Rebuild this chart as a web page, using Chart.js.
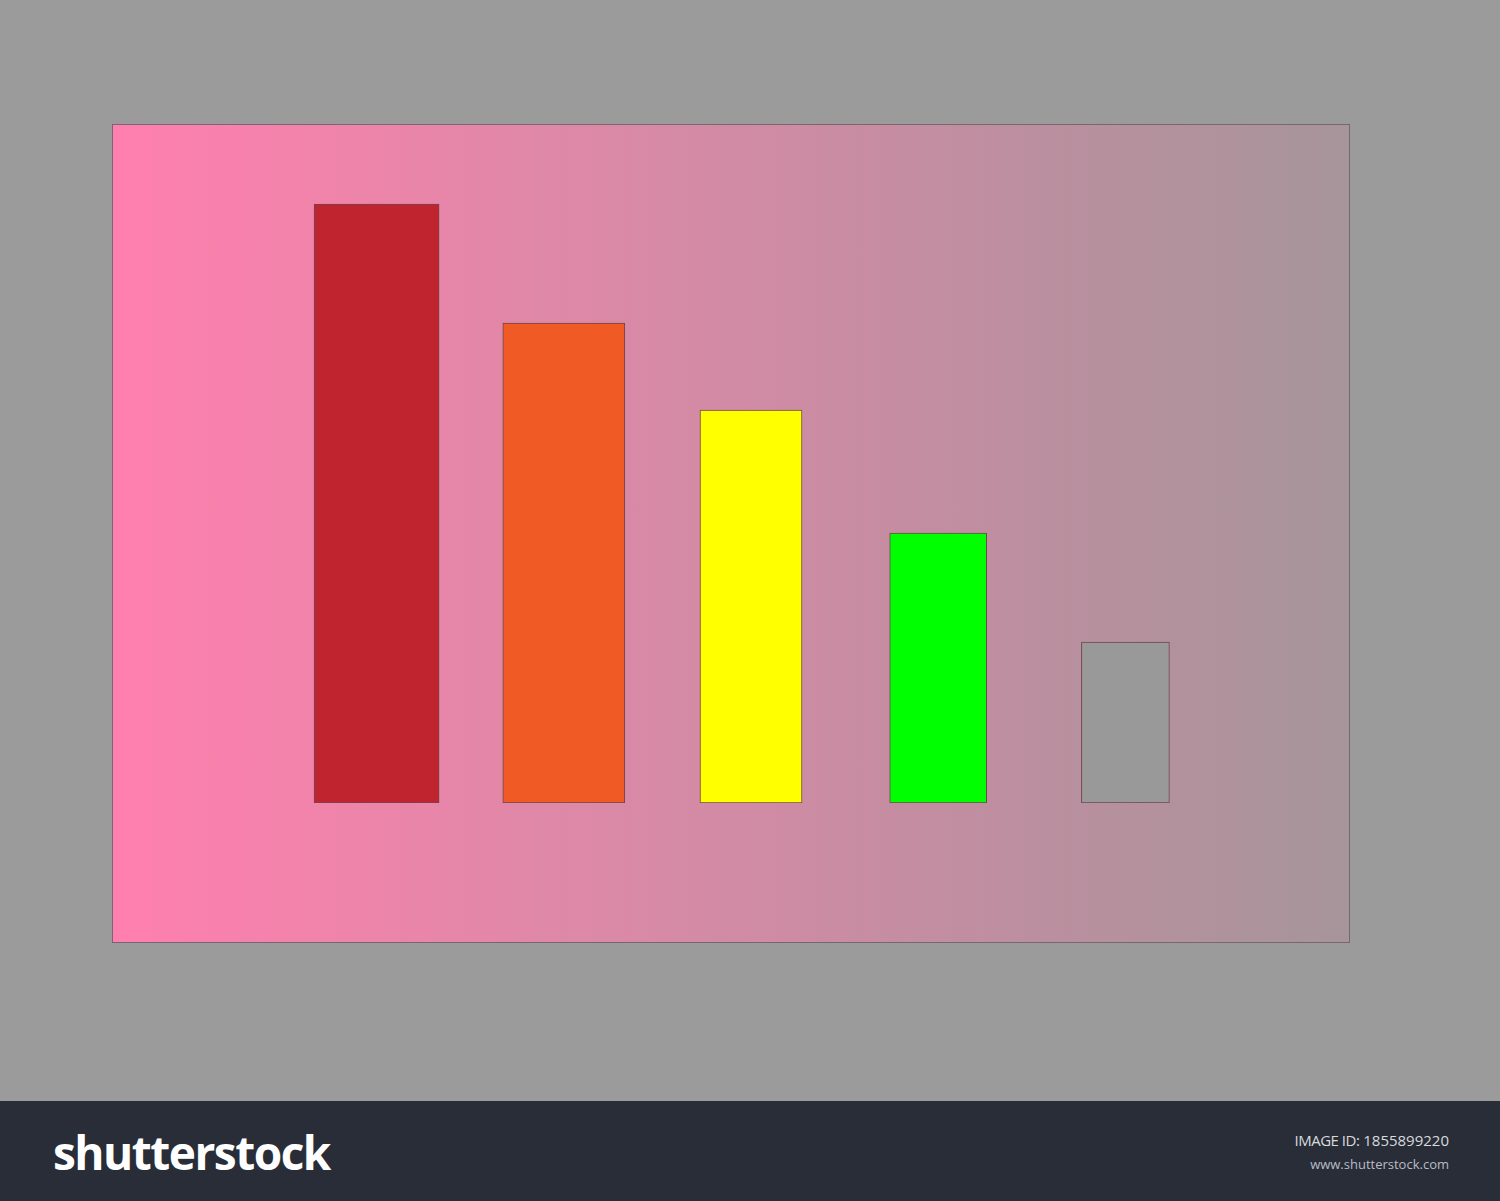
<!DOCTYPE html>
<html>
<head>
<meta charset="utf-8">
<script src="https://cdn.jsdelivr.net/npm/chart.js@4/dist/chart.umd.min.js"></script>
<style>
  body { margin: 0; width: 1500px; height: 1201px; background: #9b9b9b; overflow: hidden; font-family: "Open Sans", sans-serif; }
  .panel { position: absolute; left: 112px; top: 124px; width: 1236px; height: 817px;
    border: 1px solid #7a6670;
    background: linear-gradient(to right, #ff7fae 0%, #f283ab 15%, #d68aa5 45%, #bb8f9f 75%, #a6959a 100%); }
  .wrap { position: absolute; left: 0; top: 0; width: 1500px; height: 1100px; }
  .footer { position: absolute; left: 0; top: 1101px; width: 1500px; height: 100px; background: #282d38; color: #fff; }
  .logo { position: absolute; left: 53px; top: 1121px; font-size: 46px; font-weight: 700; letter-spacing: -1.5px; }
  .id { position: absolute; right: 51px; top: 1130px; font-size: 15px; color: #d8dade; }
  .id b { font-weight: 500; letter-spacing: -0.5px; }
  .url { position: absolute; right: 51px; top: 1155px; font-size: 13px; color: #b8bcc3; }
</style>
</head>
<body>
<div class="panel"></div>
<div class="wrap"><canvas id="barChart" width="1500" height="1100"></canvas></div>
<div class="footer"></div>
<div class="logo" style="color:#fff">shutterstock</div>
<div class="id"><b>IMAGE ID:</b> 1855899220</div>
<div class="url">www.shutterstock.com</div>
<script>
const labels = ['A', 'B', 'C', 'D', 'E']
const values = [59.9, 48.0, 39.3, 27.0, 16.1]
const colors = ['#c0242e', '#f05a24', '#ffff00', '#00ff00', '#999999']
const thickness = [125, 122, 102, 97, 88]

const datasets = values.map((v, i) => ({
  label: labels[i],
  data: labels.map((_, j) => j === i ? v : null),
  backgroundColor: colors[i],
  borderColor: '#6e4650',
  borderWidth: 1,
  borderSkipped: false,
  barThickness: thickness[i],
  skipNull: true
}))

const config = {
  type: 'bar',
  data: { labels: labels, datasets: datasets },
  options: {
    responsive: false,
    animation: false,
    layout: { padding: { left: 283, right: 281, top: 124, bottom: 297 } },
    plugins: { legend: { display: false }, tooltip: { enabled: false } },
    scales: {
      x: { display: false },
      y: { display: false, min: 0, max: 67.9 }
    }
  }
}

const barChart = new Chart(document.getElementById('barChart'), config)
</script>
</body>
</html>
